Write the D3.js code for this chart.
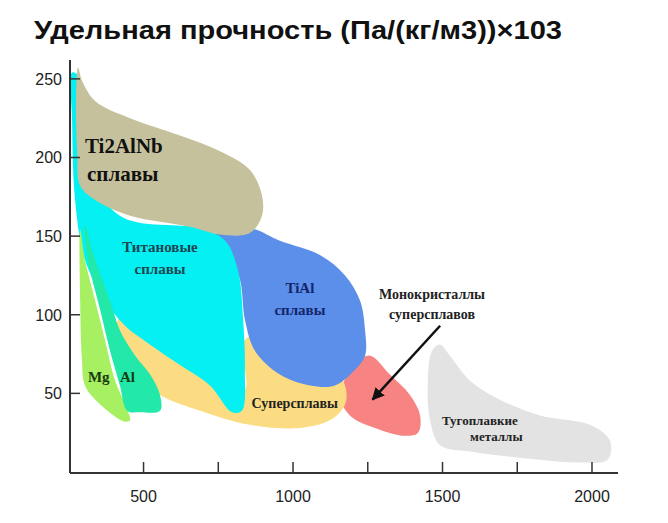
<!DOCTYPE html>
<html><head><meta charset="utf-8">
<script src="https://cdn.jsdelivr.net/npm/d3@7"></script>
<style>body{margin:0;background:#fff}</style>
</head><body><svg id="chart" width="668" height="523"></svg>
<script>
// outlines in data units: [удельная прочность x, y]
const ti2alnb = [[281,257],[294,249],[338,236],[455,225],[622,214],[756,204],[856,192],[896,176],[896,163],[856,152],[756,151],[655,156],[455,163],[338,173],[288,182],[278,204],[274,236]]
const titanium = [[261,254],[281,252],[288,204],[421,163],[689,155],[773,147],[816,128],[833,97],[839,65],[829,39],[796,38],[722,55],[622,68],[522,81],[438,93],[371,109],[304,135],[271,173],[261,224]]
const tial = [[739,152],[856,155],[956,147],[1090,138],[1174,125],[1224,109],[1241,90],[1241,74],[1207,65],[1140,55],[1057,55],[956,62],[873,77],[839,97],[823,122],[783,141]]
const superalloy = [[421,98],[488,87],[589,76],[689,68],[789,55],[839,52],[839,84],[906,87],[1023,81],[1124,68],[1174,55],[1174,43],[1124,33],[1023,28],[856,30],[689,39],[555,49],[455,65],[405,84]]
const monocrystal = [[1207,68],[1257,74],[1324,62],[1391,49],[1425,36],[1418,25],[1374,23],[1274,28],[1190,36],[1157,49]]
const refractory = [[1465,77],[1492,81],[1525,74],[1592,58],[1692,46],[1826,36],[1993,30],[2060,20],[2053,8],[1960,6],[1759,9],[1592,13],[1492,17],[1458,33],[1451,58]]
const magnesium = [[288,154],[304,135],[338,109],[371,84],[405,58],[438,43],[455,33],[438,32],[355,43],[304,55],[294,71],[288,109]]
const aluminium = [[304,157],[338,135],[388,109],[421,90],[472,74],[522,62],[555,49],[555,39],[488,38],[445,39],[421,55],[388,77],[355,103],[314,135]]

const xTicks = [500, 750, 1000, 1250, 1500, 1750, 2000]
const xTickLabels = ["500", "", "1000", "", "1500", "", "2000"]
const yTicks = [50, 100, 150, 200, 250]

const svg = d3.select("#chart")
const x = d3.scaleLinear().domain([254, 2087]).range([70, 618])
const y = d3.scaleLinear().domain([0, 262]).range([472, 60])

const shapes = [
  [monocrystal, "#f78383"],
  [refractory, "#e3e3e3"],
  [superalloy, "#fbdc82"],
  [tial, "#5b8fe9"],
  [titanium, "#05f0f2"],
  [ti2alnb, "#c5c19c"],
  [magnesium, "#a6f062"],
  [aluminium, "#22e8aa"]
]
const line = d3.line().x(d => x(d[0])).y(d => y(d[1])).curve(d3.curveCatmullRomClosed.alpha(0.5))
shapes.forEach(s => {
  svg.append("path").attr("d", line(s[0])).attr("fill", s[1])
})

// axes
svg.append("line").attr("x1", 70).attr("x2", 618).attr("y1", 473).attr("y2", 473).attr("stroke", "#333").attr("stroke-width", 2)
svg.append("line").attr("x1", 70).attr("x2", 70).attr("y1", 60).attr("y2", 473).attr("stroke", "#333").attr("stroke-width", 2)
svg.selectAll(".xt").data(xTicks).enter().append("line")
  .attr("x1", d => x(d)).attr("x2", d => x(d)).attr("y1", 462).attr("y2", 473).attr("stroke", "#333").attr("stroke-width", 1.5)
svg.selectAll(".xl").data(xTicks).enter().append("text")
  .attr("x", d => x(d)).attr("y", 502).attr("text-anchor", "middle")
  .attr("font-family", "Liberation Sans, Arial").attr("font-size", "16px").attr("fill", "#222")
  .text((d, i) => xTickLabels[i])
svg.selectAll(".yt").data(yTicks).enter().append("line")
  .attr("x1", 70).attr("x2", 80).attr("y1", d => y(d)).attr("y2", d => y(d)).attr("stroke", "#333").attr("stroke-width", 1.5)
svg.selectAll(".yl").data(yTicks).enter().append("text")
  .attr("x", 62).attr("y", d => y(d) + 6).attr("text-anchor", "end")
  .attr("font-family", "Liberation Sans, Arial").attr("font-size", "16px").attr("fill", "#222")
  .text(d => d)

// arrow
svg.append("defs").append("marker").attr("id", "ah").attr("viewBox", "0 0 10 10")
  .attr("refX", 9).attr("refY", 5).attr("markerWidth", 5).attr("markerHeight", 5).attr("orient", "auto")
  .append("path").attr("d", "M0,0L10,5L0,10Z").attr("fill", "#111")
svg.append("line").attr("x1", x(1492)).attr("y1", y(93)).attr("x2", x(1266)).attr("y2", y(46))
  .attr("stroke", "#111").attr("stroke-width", 2.5).attr("marker-end", "url(#ah)")

const labels = [
  ["Ti2AlNb", 304, 203, "start", 21, "#111"],
  ["сплавы", 311, 185, "start", 21, "#111"],
  ["Титановые", 555, 140, "middle", 15, "#1d4650"],
  ["сплавы", 555, 126, "middle", 15, "#1d4650"],
  ["TiAl", 1023, 114, "middle", 15, "#14256a"],
  ["сплавы", 1023, 100, "middle", 15, "#14256a"],
  ["Mg", 314, 57, "start", 15, "#1a3a10"],
  ["Al", 421, 57, "start", 15, "#1a3a10"],
  ["Суперсплавы", 1006, 41, "middle", 14, "#222"],
  ["Монокристаллы", 1465, 110, "middle", 14, "#222"],
  ["суперсплавов", 1465, 97, "middle", 14, "#222"],
  ["Тугоплавкие", 1625, 30, "middle", 13, "#222"],
  ["металлы", 1680, 20, "middle", 13, "#222"]
]
svg.selectAll(".lab").data(labels).enter().append("text")
  .attr("x", d => x(d[1])).attr("y", d => y(d[2])).attr("text-anchor", d => d[3])
  .attr("font-family", "Liberation Serif, Times New Roman").attr("font-weight", "bold")
  .attr("font-size", d => d[4] + "px").attr("fill", d => d[5])
  .text(d => d[0])

svg.append("text").attr("x", 34).attr("y", 39)
  .attr("font-family", "Liberation Sans, Arial").attr("font-weight", "bold").attr("font-size", "26px").attr("fill", "#111")
  .attr("textLength", 528).attr("lengthAdjust", "spacingAndGlyphs")
  .text("Удельная прочность (Па/(кг/м3))×103")
</script>
</body></html>
